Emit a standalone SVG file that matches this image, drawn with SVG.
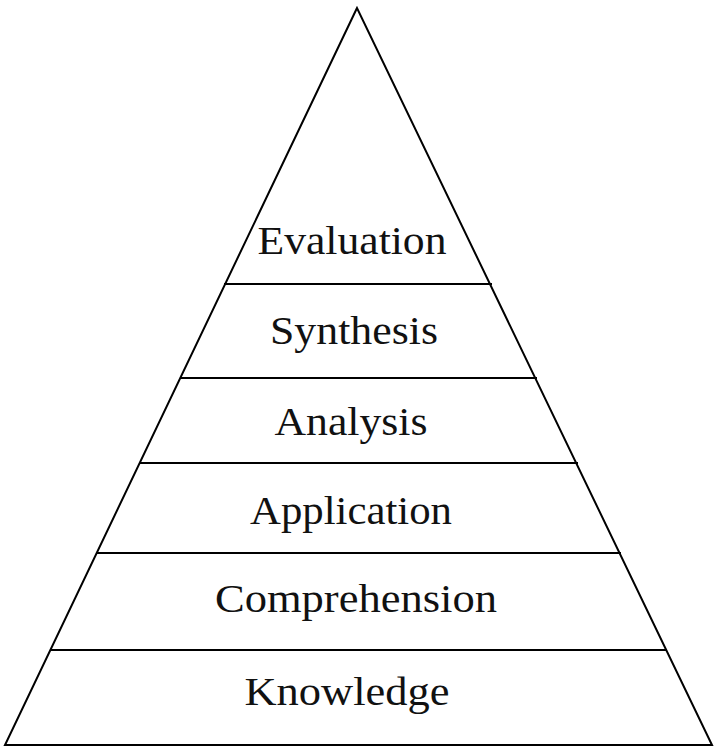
<svg xmlns="http://www.w3.org/2000/svg" width="718" height="754" viewBox="0 0 718 754">
<style>
.l{stroke:#000;stroke-width:2;fill:none}
.t{font-family:"Liberation Serif",serif;font-size:39px;fill:#111;text-anchor:middle}
</style>
<rect width="718" height="754" fill="#fff"/>
<g id="pyramid"><polygon class="l" points="357,8 5,745 712,745"/></g>
<g id="connectors">
<line class="l" x1="224" y1="284" x2="492" y2="284"/>
<line class="l" x1="180" y1="378" x2="537" y2="378"/>
<line class="l" x1="139" y1="463" x2="578" y2="463"/>
<line class="l" x1="96" y1="553" x2="621" y2="553"/>
<line class="l" x1="50" y1="650" x2="667" y2="650"/>
</g>
<g id="evaluation"><text class="t" x="352" y="254" textLength="189" lengthAdjust="spacingAndGlyphs">Evaluation</text></g>
<g id="synthesis"><text class="t" x="354" y="344" textLength="168" lengthAdjust="spacingAndGlyphs">Synthesis</text></g>
<g id="analysis"><text class="t" x="351" y="435" textLength="153" lengthAdjust="spacingAndGlyphs">Analysis</text></g>
<g id="application"><text class="t" x="351" y="524" textLength="202" lengthAdjust="spacingAndGlyphs">Application</text></g>
<g id="comprehension"><text class="t" x="356" y="612" fill="#2a1518" textLength="282" lengthAdjust="spacingAndGlyphs">Comprehension</text></g>
<g id="knowledge"><text class="t" x="347" y="705" textLength="205" lengthAdjust="spacingAndGlyphs">Knowledge</text></g>
</svg>
